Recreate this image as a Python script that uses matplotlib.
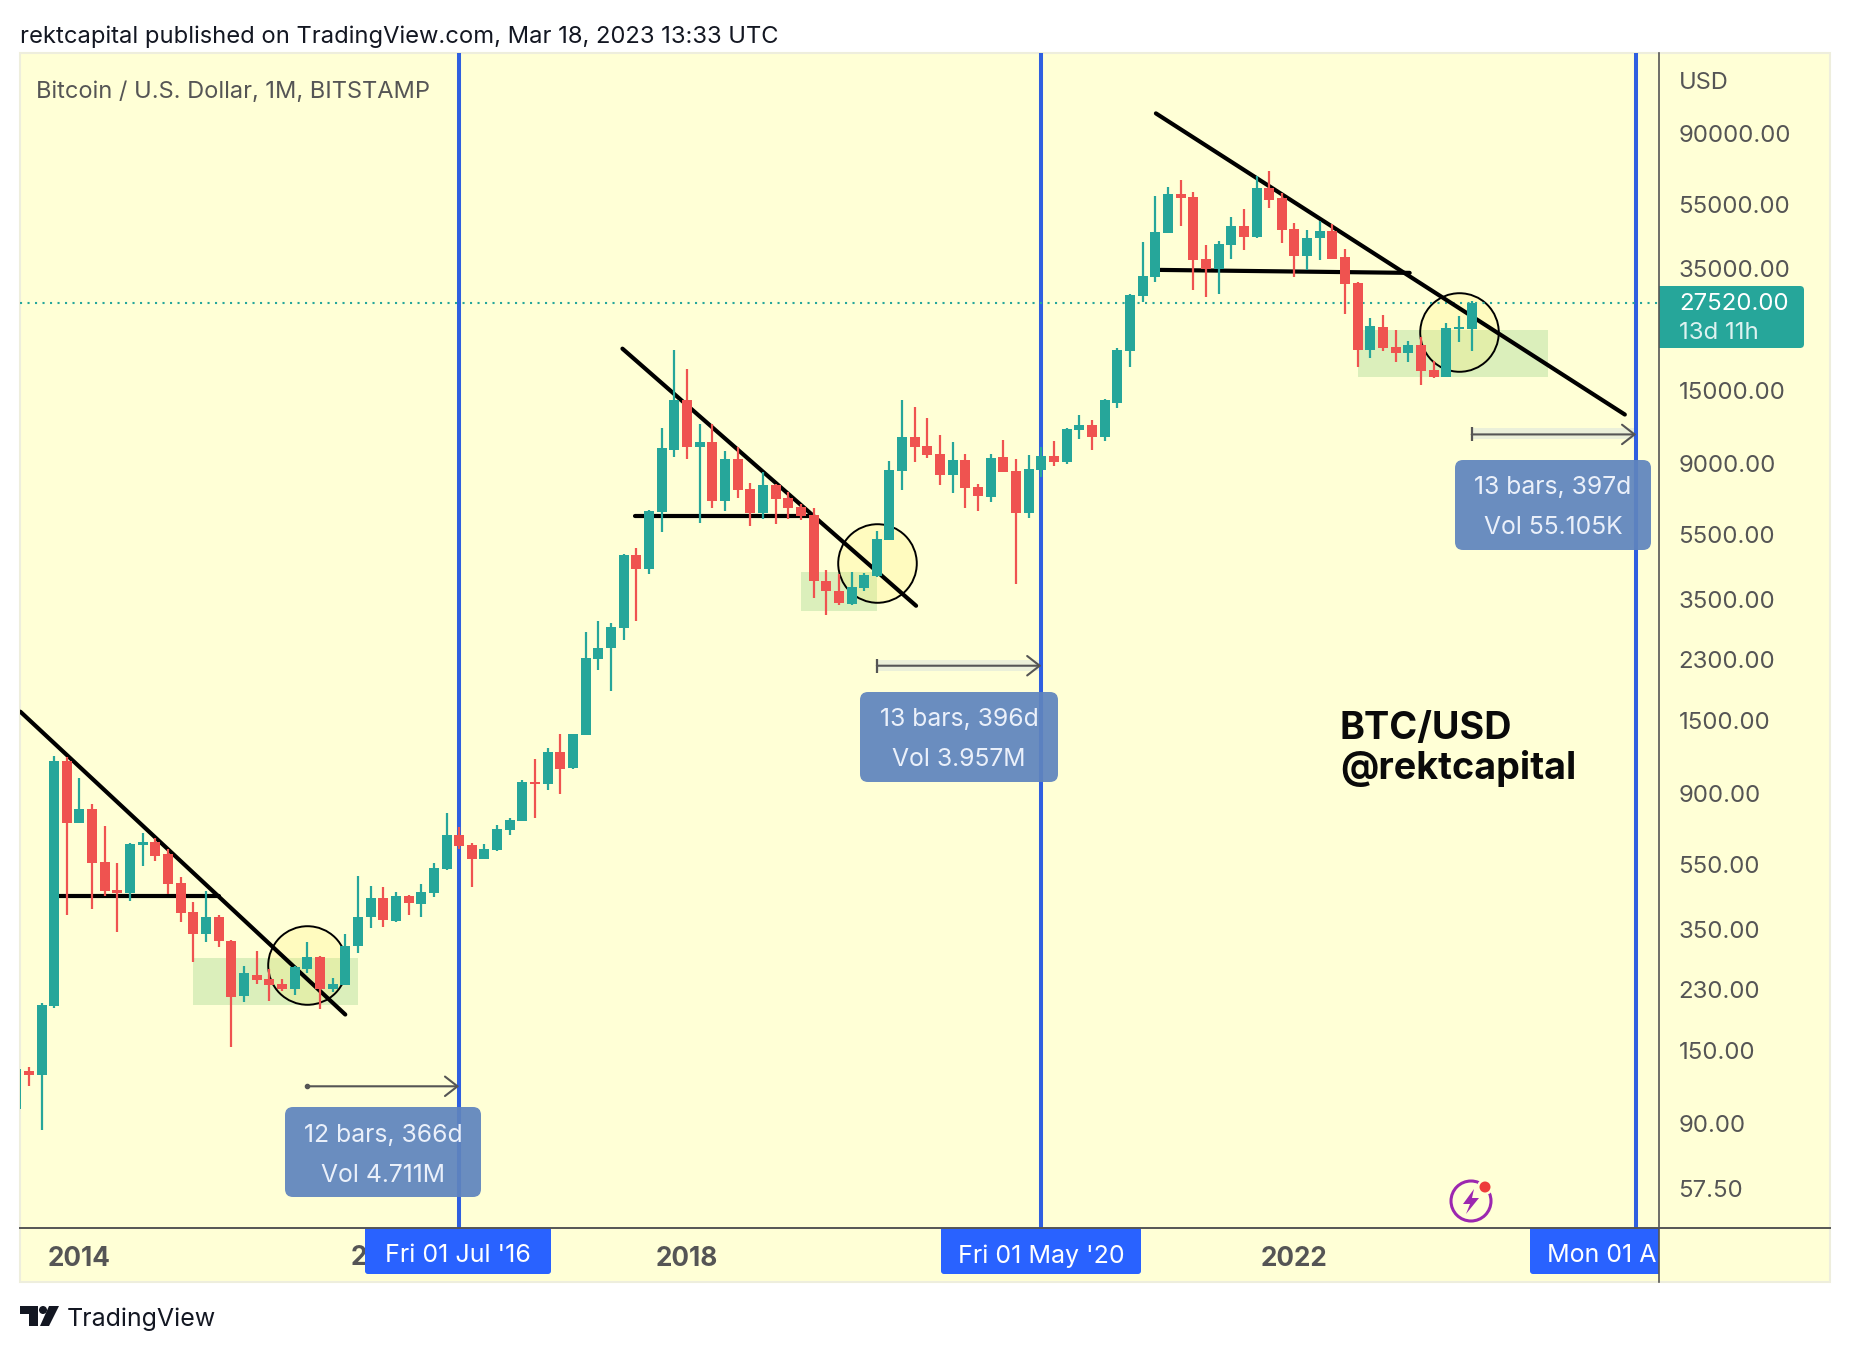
import matplotlib
matplotlib.use('Agg')
import matplotlib.pyplot as plt
from matplotlib.patches import Rectangle, FancyBboxPatch, Circle, Polygon
from matplotlib.ticker import NullLocator, NullFormatter

plt.rcParams['font.family'] = ['Inter', 'DejaVu Sans']

# Monthly candles, Aug 2013 to Mar 2023
opens = [100, 130, 127, 205, 1134,
         735, 811, 560, 460, 451, 630, 645, 592, 483, 395, 339, 381,
         322, 220, 255, 247, 238, 230, 265, 289, 230, 237, 311, 381,
         435, 371, 441, 418, 451, 534, 676, 630, 572, 610, 700, 746,
         978, 962, 1207, 1078, 1360, 2307, 2480, 2867, 4769, 4325, 6440, 9890,
         13975, 10130, 10430, 6953, 9310, 7560, 6394, 7770, 7100, 6660, 6300, 3974,
         3700, 3390, 3780, 4100, 5300, 8570, 10870, 10200, 9640, 8320, 9250, 7650,
         7150, 9450, 8550, 6390, 8590, 9500, 9130, 11400, 11740, 10830, 13700, 19680,
         29000, 33100, 44900, 59000, 57700, 37600, 35000, 41300, 47100, 43700, 61500, 57300,
         46300, 38400, 43300, 45600, 37900, 31800, 19920, 23300, 20300, 19450, 20600, 17300,
         16500, 23000, 23000]
highs = [134, 134, 209, 1174, 1165,
         1006, 839, 720, 556, 640, 686, 662, 613, 504, 424, 457, 387,
         325, 271, 301, 266, 248, 270, 320, 291, 249, 339, 508, 473,
         470, 454, 444, 478, 556, 788, 715, 640, 635, 725, 762, 992,
         1150, 1240, 1368, 1370, 2788, 3010, 2970, 4805, 5007, 6530, 11500, 19810,
         17350, 11900, 11830, 9850, 10130, 7883, 8510, 7830, 7400, 6780, 6620, 4295,
         4178, 4240, 4190, 5640, 9180, 13975, 13310, 12390, 11020, 10430, 9640, 7830,
         9640, 10575, 9310, 9570, 10130, 10500, 11570, 12600, 12160, 14170, 20100, 29420,
         42240, 58000, 62000, 65100, 59800, 41300, 42500, 50400, 53200, 66800, 69400, 59500,
         48200, 46000, 48900, 47800, 40300, 32000, 24860, 25300, 22800, 21200, 21800, 18400,
         24000, 25200, 27900]
lows = [100, 117, 86, 202, 387,
        735, 403, 441, 343, 427, 545, 564, 448, 368, 279, 320, 309,
        154, 211, 239, 212, 228, 221, 257, 201, 226, 237, 297, 353,
        355, 368, 387, 381, 438, 530, 612, 470, 570, 605, 676, 745,
        762, 925, 900, 1073, 1360, 2137, 1848, 2637, 3010, 4178, 5600, 9450,
        9310, 5965, 6620, 6460, 7100, 5840, 6120, 5920, 6130, 6090, 3530, 3130,
        3360, 3360, 3700, 4090, 5290, 7507, 9130, 9380, 7770, 7350, 6580, 6480,
        6900, 8470, 3890, 6170, 8200, 8860, 9000, 10650, 9880, 10500, 13300, 17700,
        27700, 32000, 44800, 47100, 30200, 28800, 29400, 37600, 39900, 43500, 53600, 42000,
        33000, 34600, 37300, 37500, 25600, 17700, 18840, 19800, 18300, 18300, 15600, 16400,
        16450, 21000, 19800]
closes = [132, 127, 206, 1134, 735,
          811, 556, 457, 451, 635, 645, 584, 480, 392, 339, 381, 322,
          218, 257, 246, 237, 230, 268, 289, 230, 239, 311, 381, 435,
          373, 441, 420, 454, 537, 676, 626, 572, 613, 705, 751, 978,
          962, 1207, 1073, 1368, 2324, 2494, 2887, 4769, 4325, 6484, 10060, 13975,
          10130, 10430, 6953, 9310, 7507, 6394, 7770, 7050, 6620, 6260, 3974, 3700,
          3410, 3810, 4150, 5335, 8630, 10870, 10130, 9570, 8336, 9250, 7610, 7200,
          9380, 8490, 6390, 8650, 9500, 9130, 11490, 11740, 10830, 13975, 19810, 29200,
          33320, 45100, 59000, 57300, 37300, 35000, 41700, 47100, 43700, 61500, 56700, 46000,
          38400, 43400, 45600, 37600, 31600, 19920, 23500, 20200, 19450, 20600, 17200, 16500,
          23200, 23400, 27520]

year_pos = [5, 53, 101]
year_labels = ['2014', '2018', '2022']
price_ticks = [90000, 55000, 35000, 15000, 9000, 5500, 3500, 2300, 1500, 900, 550, 350, 230, 150, 90, 57.5]
last_price = 27520
cycle_bars = [35, 81, 128]

# Drawings on the chart, (bar, price)
trend_x = [[0.33, 26.0], [47.9, 71.1], [90.05, 127.1]]
trend_y = [[1595, 193], [20060, 3339], [103500, 12670]]
flat_x = [[3.4, 16], [48.9, 62.9], [90.4, 110.1]]
flat_y = [[441, 441], [6262, 6262], [34740, 34030]]
zone_x = [[14, 27], [62, 68], [106, 121]]
zone_y = [[206, 287], [3215, 4230], [16500, 22900]]
circle_x = [23, 68, 114]
circle_y = [273, 4510, 22600]
span_start = [23, 68, 115]
span_end = [35, 81, 128]
span_y = [117, 2198, 11030]
span_band = [None, (2112, 2292), (10650, 11570)]

UP = '#26A69A'
DOWN = '#EF5350'
BG = '#FFFFD6'
BLUE = '#2F5FE0'
TAG = '#2962FF'
GREY = '#555555'
BOX = '#5F84BE'

W, H = 1850, 1352
fig = plt.figure(figsize=(W / 100, H / 100), dpi=100, facecolor='white')

# panel behind everything
base = fig.add_axes([0, 0, 1, 1], zorder=0)
base.set_xlim(0, W)
base.set_ylim(H, 0)
base.axis('off')
base.add_patch(Rectangle((20, 53), 1810, 1229, facecolor=BG, edgecolor='#EEEEDD', lw=1.5))

# main pane
L, R, T, B = 20, 1659, 53, 1228
ax = fig.add_axes([L / W, 1 - B / H, (R - L) / W, (B - T) / H], zorder=1)
ax.patch.set_alpha(0)
for s in ax.spines.values():
    s.set_visible(False)
ax.set_yscale('log')
ax.set_xlim(0.3, 129.8)
ax.set_ylim(43.55, 157700)

ax.set_yticks(price_ticks, labels=[f'{p:.2f}' for p in price_ticks])
ax.yaxis.set_minor_locator(NullLocator())
ax.yaxis.set_minor_formatter(NullFormatter())
ax.tick_params(axis='y', left=False, right=False, labelleft=False, labelright=True,
               pad=10.5, labelsize=17.3, labelcolor=GREY)
ax.set_xticks(year_pos, labels=year_labels, fontweight='bold')
ax.tick_params(axis='x', length=0, pad=13, labelsize=18.8, labelcolor=GREY)

# zones and circles under the candles
for x, y in zip(zone_x, zone_y):
    ax.add_patch(Rectangle((x[0], y[0]), x[1] - x[0], y[1] - y[0], facecolor='#4CAF50',
                           alpha=0.2, lw=0, zorder=1))
ax.scatter(circle_x, circle_y, s=3200, facecolor=(1, 0.93, 0.4, 0.2), edgecolor='black',
           linewidth=1.4, zorder=1.5)

for x in cycle_bars:
    ax.axvline(x, color=BLUE, lw=2.9, zorder=1.6)

ax.axhline(last_price, color=UP, lw=1.5, ls=(0, (1, 2.6)), zorder=1.7)

for x, y in zip(trend_x, trend_y):
    ax.plot(x, y, color='black', lw=3, solid_capstyle='round', zorder=2)
for x, y in zip(flat_x, flat_y):
    ax.plot(x, y, color='black', lw=3, solid_capstyle='round', zorder=2)

# candles
bars = range(len(opens))
colors = [UP if c >= o else DOWN for o, c in zip(opens, closes)]
ax.vlines(bars, lows, highs, colors=colors, lw=1.6, zorder=3)
ax.bar(bars, [abs(c - o) for o, c in zip(opens, closes)],
       bottom=[min(o, c) for o, c in zip(opens, closes)],
       width=0.79, color=colors, lw=0, zorder=3.1)

# measure arrows
for a, b, y, band in zip(span_start, span_end, span_y, span_band):
    if band:
        ax.add_patch(Rectangle((a, band[0]), b - a, band[1] - band[0], facecolor='#2962FF',
                               alpha=0.09, lw=0, zorder=3.2))
        ax.plot([a], [y], marker='|', ms=10, mew=1.6, color=GREY, zorder=3.4)
    else:
        ax.plot([a], [y], marker='o', ms=3, color=GREY, zorder=3.4)
    ax.annotate('', xy=(b, y), xytext=(a, y),
                arrowprops=dict(arrowstyle='->,head_length=0.9,head_width=0.7', color=GREY,
                                lw=1.5, shrinkA=0, shrinkB=0, mutation_scale=10), zorder=3.4)

# everything on top, in image pixels
top = fig.add_axes([0, 0, 1, 1], zorder=2)
top.set_xlim(0, W)
top.set_ylim(H, 0)
top.axis('off')

top.plot([20, 1830], [1228, 1228], color=GREY, lw=1.4)
top.plot([1659, 1659], [53, 1282], color=GREY, lw=1.2)

top.text(20, 37, 'rektcapital published on TradingView.com, Mar 18, 2023 13:33 UTC',
         fontsize=17.1, color='#131722', va='center')
top.text(36, 92, 'Bitcoin / U.S. Dollar, 1M, BITSTAMP', fontsize=17, color=GREY, va='center')
top.text(1679, 83, 'USD', fontsize=17, color=GREY, va='center')

# last price tag
top.add_patch(FancyBboxPatch((1664, 286), 140, 62, boxstyle='round,pad=0,rounding_size=4',
                             facecolor=UP, edgecolor=UP, lw=0))
top.add_patch(Rectangle((1659, 286), 10, 62, facecolor=UP, lw=0))
top.text(1679, 304, '27520.00', fontsize=17.3, color='white', va='center')
top.text(1679, 333, '13d 11h', fontsize=17.3, color='#DDF2F0', va='center')

# measure boxes
box_left = [285, 860, 1455]
box_right = [481, 1058, 1651]
box_top = [1107, 692, 460]
box_bottom = [1197, 782, 550]
box_line1 = ['12 bars, 366d', '13 bars, 396d', '13 bars, 397d']
box_line2 = ['Vol 4.711M', 'Vol 3.957M', 'Vol 55.105K']
for l, r, t, b, s1, s2 in zip(box_left, box_right, box_top, box_bottom, box_line1, box_line2):
    top.add_patch(FancyBboxPatch((l, t), r - l, b - t, boxstyle='round,pad=0,rounding_size=8',
                                 facecolor=BOX, edgecolor='none', alpha=0.93))
    cx = (l + r) / 2
    top.text(cx, t + 28, s1, fontsize=17.8, color='#EAF0FA', ha='center', va='center')
    top.text(cx, t + 68, s2, fontsize=17.8, color='#EAF0FA', ha='center', va='center')

# the 2016 year label sticks out from under the first time tag
top.text(351, 1258, '2', fontsize=18.8, fontweight='bold', color=GREY, va='center', zorder=0.5)

# time tags
tag_left = [365, 941, 1530]
tag_right = [551, 1141, 1659]
tag_text = ["Fri 01 Jul '16", "Fri 01 May '20", 'Mon 01 A']
for l, r, s in zip(tag_left, tag_right, tag_text):
    top.add_patch(FancyBboxPatch((l, 1228), r - l, 46, boxstyle='round,pad=0,rounding_size=3',
                                 facecolor=TAG, edgecolor='none'))
    top.add_patch(Rectangle((l, 1228), r - l, 10, facecolor=TAG, lw=0))
    if s == 'Mon 01 A':
        top.add_patch(Rectangle((r - 10, 1228), 10, 46, facecolor=TAG, lw=0))
        top.text(1547, 1256, s, fontsize=18, color='white', va='center')
    else:
        top.text((l + r) / 2, 1256, s, fontsize=18, color='white', ha='center', va='center')

top.text(1340, 739, 'BTC/USD', fontsize=27.2, fontweight='bold', color='#0A0A0A', va='baseline')
top.text(1340, 779, '@rektcapital', fontsize=27.2, fontweight='bold', color='#0A0A0A', va='baseline')

# replay icon
top.add_patch(Circle((1471, 1201), 20, fill=False, edgecolor='#9C27B0', lw=2.2))
top.add_patch(Circle((1485, 1187), 8, facecolor=BG, lw=0))
top.add_patch(Circle((1485, 1187), 5.5, facecolor='#EE3B3B', lw=0))
top.add_patch(Polygon([(1474, 1189), (1463, 1204), (1470, 1204), (1466, 1214), (1479, 1198), (1472, 1198)],
                      facecolor='#9C27B0', lw=0))

# TradingView mark
logo = '#131722'
top.add_patch(Polygon([(20, 1306), (38, 1306), (38, 1326), (29, 1326), (29, 1314), (20, 1314)], facecolor=logo, lw=0))
top.add_patch(Circle((43, 1310), 4, facecolor=logo, lw=0))
top.add_patch(Polygon([(49, 1306), (59, 1306), (49, 1326), (40, 1326)], facecolor=logo, lw=0))
top.text(67, 1319, 'TradingView', fontsize=18, color='#131722', va='center')

fig.savefig('out.png', dpi=100)
